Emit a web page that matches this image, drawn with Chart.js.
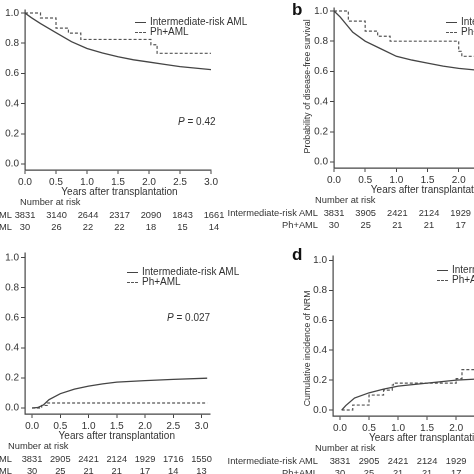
<!DOCTYPE html>
<html><head><meta charset="utf-8">
<script src="https://cdn.jsdelivr.net/npm/chart.js@4"></script>
<style>
body{margin:0;width:474px;height:474px;overflow:hidden;position:relative;background:#fff;font-family:"Liberation Sans",Arial,sans-serif;color:#333}
canvas{position:absolute}
.t{position:absolute;font-size:10px;white-space:nowrap;line-height:1}
.s{font-size:9.3px}
.c{transform:translateX(-50%)}
.r{transform:translateX(-100%)}
.lg{position:absolute;height:0;border-top:1.4px solid #444;width:11px}
.lg.d{border-top:1.4px dashed #555}
</style></head><body>
<script>
// --- data ---
const yTicks = [0, 0.2, 0.4, 0.6, 0.8, 1.0];
const xTicks = [0, 0.5, 1.0, 1.5, 2.0, 2.5, 3.0];
const groups = ['Intermediate-risk AML', 'Ph+AML'];

const osInter = [[0,1],[0.1,0.97],[0.25,0.93],[0.5,0.87],[0.75,0.81],[1.0,0.765],[1.25,0.735],[1.5,0.71],[1.75,0.69],[2.0,0.675],[2.25,0.66],[2.5,0.645],[2.75,0.635],[3.0,0.625]];
const osPh = [[0,1],[0.25,0.967],[0.5,0.9],[0.7,0.867],[0.9,0.825],[2.03,0.79],[2.13,0.733],[3.0,0.733]];
const osRisk = [[3831,3140,2644,2317,2090,1843,1661],[30,26,22,22,18,15,14]];

const dfsInter = [[0,1],[0.1,0.96],[0.2,0.91],[0.3,0.86],[0.5,0.8],[0.75,0.75],[1.0,0.7],[1.25,0.675],[1.5,0.655],[1.75,0.635],[2.0,0.62],[2.25,0.61],[2.5,0.6],[3.0,0.58]];
const dfsPh = [[0,1],[0.23,0.933],[0.5,0.867],[0.7,0.833],[0.9,0.8],[2.0,0.733],[2.05,0.7],[3.0,0.7]];
const dfsRisk = [[3831,3905,2421,2124,1929],[30,25,21,21,17]];

const relInter = [[0,0],[0.1,0.003],[0.2,0.02],[0.3,0.055],[0.5,0.095],[0.75,0.125],[1.0,0.145],[1.25,0.16],[1.5,0.172],[2.0,0.182],[2.5,0.19],[3.1,0.198]];
const relPh = [[0,0],[0.17,0.017],[0.27,0.033],[3.1,0.033]];
const relRisk = [[3831,2905,2421,2124,1929,1716,1550],[30,25,21,21,17,14,13]];

const nrmInter = [[0.03,0],[0.1,0.03],[0.25,0.08],[0.5,0.115],[0.75,0.14],[1.0,0.16],[1.5,0.18],[2.0,0.2],[2.5,0.21],[3.0,0.22]];
const nrmPh = [[0.03,0],[0.22,0.033],[0.5,0.1],[0.75,0.133],[0.9,0.167],[0.92,0.18],[2.0,0.21],[2.1,0.27],[3.0,0.27]];
const nrmRisk = [[3831,2905,2421,2124,1929],[30,25,21,21,17]];

function txt(s, x, y, cls, extra) {
    const d = document.createElement('div');
    d.className = 't ' + (cls || '');
    d.style.left = x + 'px'; d.style.top = (y - 5) + 'px';
    if (extra) d.style.cssText += extra;
    d.innerHTML = s;
    document.body.appendChild(d);
}
function legendLine(x, y, dashed) {
    const d = document.createElement('div');
    d.className = 'lg' + (dashed ? ' d' : '');
    d.style.left = x + 'px'; d.style.top = y + 'px';
    document.body.appendChild(d);
}

// p: canvas left/top, area left/top/right/bottom (page coords)
function panel(p) {
    const cv = document.createElement('canvas');
    const w = p.right - p.cl + 6, h = p.bottom - p.ct + 18;
    cv.style.left = p.cl + 'px'; cv.style.top = p.ct + 'px';
    cv.style.width = w + 'px'; cv.style.height = h + 'px';
    document.body.appendChild(cv);
    const pts = a => a.map(d => ({ x: d[0], y: d[1] }));
    const axisCommon = {
        grid: { drawOnChartArea: false, tickLength: 4, color: '#444' },
        border: { color: '#444', width: 1.2 },
        ticks: { color: '#333', font: { size: 10, family: 'Liberation Sans' }, callback: v => v.toFixed(1) }
    };
    new Chart(cv, {
        type: 'scatter',
        data: {
            datasets: [
                { data: pts(p.inter), showLine: true, borderColor: '#444', borderWidth: 1.3, pointRadius: 0 },
                { data: pts(p.ph), showLine: true, stepped: true, borderColor: '#555', borderWidth: 1.2, borderDash: [3, 2], pointRadius: 0 }
            ]
        },
        options: {
            responsive: false, animation: false, devicePixelRatio: 2,
            layout: { padding: { left: 0, top: p.top - p.ct, right: w - (p.right - p.cl), bottom: 0 } },
            plugins: { legend: { display: false }, tooltip: { enabled: false } },
            scales: {
                x: { ...axisCommon, min: p.xmin, max: p.xmax,
                    ticks: { ...axisCommon.ticks, padding: 2, maxRotation: 0, autoSkip: false },
                    afterBuildTicks: s => { s.ticks = xTicks.map(v => ({ value: v })); },
                    afterFit: s => { s.height = h - (p.bottom - p.ct); } },
                y: { ...axisCommon, min: p.ymin, max: p.ymax,
                    ticks: { ...axisCommon.ticks, padding: 2 },
                    afterBuildTicks: s => { s.ticks = yTicks.map(v => ({ value: v })); },
                    afterFit: s => { s.width = p.left - p.cl; } }
            }
        }
    });
    const unit = (p.right - p.left) / (p.xmax - p.xmin);
    const x0 = p.left - p.xmin * unit;
    txt('Years after transplantation', x0 + 1.5 * unit, p.bottom + 22, 'c');
    txt('Number at risk', p.nx, p.bottom + 33, 's');
    p.risk.forEach((row, j) => {
        txt(groups[j], p.lx, p.bottom + 46 + j * 12, 's r');
        row.forEach((v, i) => txt(v, x0 + xTicks[i] * unit, p.bottom + 46 + j * 12, 's c'));
    });
}

panel({ cl: 0, ct: 0, left: 25, top: 10, right: 214, bottom: 170, xmin: 0, xmax: 3, ymin: -0.04, ymax: 1.02,
    inter: osInter, ph: osPh, risk: osRisk, nx: 20, lx: 12 });
panel({ cl: 304, ct: 0, left: 334, top: 5, right: 524, bottom: 168, xmin: 0, xmax: 3, ymin: -0.04, ymax: 1.02,
    inter: dfsInter, ph: dfsPh, risk: dfsRisk, nx: 315, lx: 318 });
panel({ cl: 0, ct: 243, left: 25, top: 253, right: 210, bottom: 414, xmin: -0.125, xmax: 3.15, ymin: -0.04, ymax: 1.03,
    inter: relInter, ph: relPh, risk: relRisk, nx: 8, lx: 12 });
panel({ cl: 303, ct: 243, left: 333, top: 256, right: 523, bottom: 416, xmin: -0.12, xmax: 3.15, ymin: -0.04, ymax: 1.03,
    inter: nrmInter, ph: nrmPh, risk: nrmRisk, nx: 315, lx: 318 });

// legends
[[135, 22], [446, 22], [127, 272], [437, 270]].forEach(([x, y]) => {
    legendLine(x, y, false); legendLine(x, y + 10, true);
    txt(groups[0], x + 15, y, ''); txt(groups[1], x + 15, y + 10, '');
});
txt('<i>P</i> = 0.42', 178, 122, '');
txt('<i>P</i> = 0.027', 167, 318, '');
txt('b', 292, 6, '', 'font-size:17px;font-weight:bold;color:#111');
txt('d', 292, 251, '', 'font-size:17px;font-weight:bold;color:#111');
txt('Probability of disease-free survival', 307, 87, '', 'font-size:8.8px;transform:translate(-50%,0) rotate(-90deg)');
txt('Cumulative incidence of NRM', 307, 349, '', 'font-size:8.8px;transform:translate(-50%,0) rotate(-90deg)');
</script>
</body></html>
